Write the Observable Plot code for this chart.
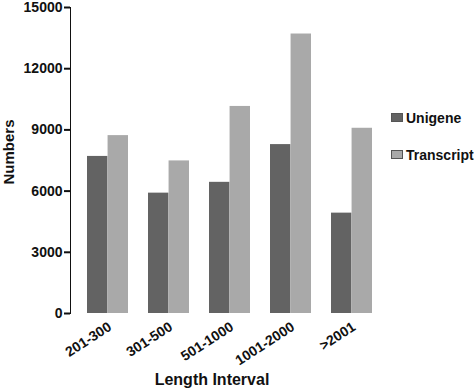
<!DOCTYPE html>
<html>
<head>
<meta charset="utf-8">
<script src="https://cdn.jsdelivr.net/npm/d3@7"></script>
<script src="https://cdn.jsdelivr.net/npm/@observablehq/plot@0.6"></script>
<style>
  html, body { margin: 0; padding: 0; background: #fff; }
  #wrap { position: relative; width: 474px; height: 390px; font-family: "Liberation Sans", Arial, sans-serif; font-weight: bold; color: #111; }
  #wrap svg { overflow: visible; }
  #wrap svg text { font-weight: bold; fill: #111; }
  #wrap svg [aria-label^="y-axis"] path, #wrap svg [aria-label^="y-axis"] line { stroke-width: 2; }
  .leg { position: absolute; left: 391px; font-size: 14px; line-height: 16px; white-space: nowrap; }
  .leg span.sw { display: inline-block; width: 10px; height: 7px; margin-right: 3px; border: 1px solid #555; vertical-align: 1px; }
  #xlabel { position: absolute; left: 0; width: 424px; top: 372px; text-align: center; font-size: 16px; line-height: 16px; }
  #ylabel { position: absolute; left: 8px; top: 152px; font-size: 15px; line-height: 15px; transform: translate(-50%, -50%) rotate(-90deg); white-space: nowrap; }
</style>
</head>
<body>
<div id="wrap"></div>
<script>
const categories = ["201-300", "301-500", "501-1000", "1001-2000", ">2001"];
const series = ["Unigene", "Transcript"];
const unigene = [7700, 5900, 6430, 8280, 4920];
const transcript = [8720, 7480, 10150, 13700, 9080];
const yTicks = [0, 3000, 6000, 9000, 12000, 15000];
const colors = ["#636363", "#a9a9a9"];

const uniData = categories.map((c, i) => ({cat: c, series: series[0], value: unigene[i]}));
const traData = categories.map((c, i) => ({cat: c, series: series[1], value: transcript[i]}));

const half = 20.57;

const chart = Plot.plot({
  width: 474,
  height: 390,
  marginLeft: 70,
  marginRight: 86,
  marginTop: 7,
  marginBottom: 77,
  style: {fontFamily: "'Liberation Sans', Arial, sans-serif", fontSize: "14px", fontWeight: "bold", background: "#fff"},
  x: {domain: categories, paddingInner: 1/3, paddingOuter: 0.243, axis: null},
  y: {domain: [0, 15000], ticks: yTicks, tickSize: 6, tickPadding: 2, line: true, label: null, tickFormat: d => String(d)},
  marks: [
    Plot.barY(uniData, {x: "cat", y: "value", fill: colors[0], insetRight: half}),
    Plot.barY(traData, {x: "cat", y: "value", fill: colors[1], insetLeft: half}),
    Plot.axisX({tickSize: 0, tickRotate: -33, tickPadding: 12, dx: 2, label: null, fontSize: 14})
  ]
});
const wrap = document.getElementById("wrap");
wrap.appendChild(chart);

const leg = [[series[0], colors[0], 110], [series[1], colors[1], 147]];
for (const [name, col, top] of leg) {
  const d = document.createElement("div");
  d.className = "leg";
  d.style.top = top + "px";
  d.innerHTML = `<span class="sw" style="background:${col}"></span>${name}`;
  wrap.appendChild(d);
}
const xl = document.createElement("div");
xl.id = "xlabel";
xl.textContent = "Length Interval";
wrap.appendChild(xl);
const yl = document.createElement("div");
yl.id = "ylabel";
yl.textContent = "Numbers";
wrap.appendChild(yl);
</script>
</body>
</html>
